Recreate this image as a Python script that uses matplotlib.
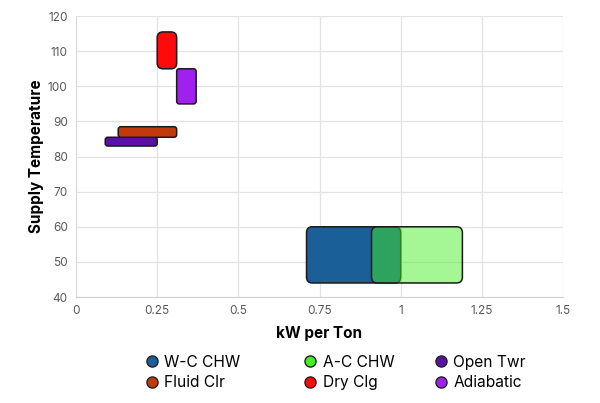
import matplotlib
matplotlib.use("Agg")
import matplotlib.pyplot as plt
from matplotlib.patches import FancyBboxPatch
from matplotlib.lines import Line2D

plt.rcParams['font.family'] = ['Inter', 'DejaVu Sans']

# ranges: (x_lo, x_hi, y_lo, y_hi)
names = ['W-C CHW', 'A-C CHW', 'Open Twr', 'Fluid Clr', 'Dry Clg', 'Adiabatic']
kw_lo = [0.71, 0.91, 0.09, 0.13, 0.25, 0.31]
kw_hi = [1.00, 1.19, 0.25, 0.31, 0.31, 0.37]
temp_lo = [44, 44, 83, 85.5, 105, 95]
temp_hi = [60, 60, 85.5, 88.5, 115.5, 105]
fills = ['#1a5f98', '#44ee22', '#5b10a8', '#c23a0c', '#ff0a0a', '#a020f0']
alphas = [1.0, 0.48, 1.0, 1.0, 1.0, 1.0]
xticks = [0, 0.25, 0.5, 0.75, 1, 1.25, 1.5]
xtick_labels = ['0', '0.25', '0.5', '0.75', '1', '1.25', '1.5']
yticks = [40, 50, 60, 70, 80, 90, 100, 110, 120]

fig = plt.figure(figsize=(6, 4.03), dpi=100)
ax = fig.add_axes([0.1267, 0.263, 0.8117, 0.697])
ax.set_xlim(0, 1.5)
ax.set_ylim(40, 120)

# aspect so that rounded corners look round in pixels
bb = ax.get_position()
w_px = bb.width * 600
h_px = bb.height * 403
aspect = (80 / h_px) / (1.5 / w_px)

for i in range(len(names)):
    w = kw_hi[i] - kw_lo[i]
    h = temp_hi[i] - temp_lo[i]
    r = 0.018 if h > 10 else 0.008
    p = FancyBboxPatch((kw_lo[i], temp_lo[i]), w, h,
                       boxstyle=f"round,pad=0,rounding_size={r}",
                       mutation_aspect=aspect,
                       edgecolor='#1a1a1a', linewidth=1.1, zorder=3)
    p.set_facecolor(matplotlib.colors.to_rgba(fills[i], alphas[i]))
    ax.add_patch(p)

ax.set_xticks(xticks)
ax.set_xticklabels(xtick_labels)
ax.set_yticks(yticks)
ax.grid(True, color='#e3e3e3', linewidth=0.9, zorder=0)
ax.set_axisbelow(True)
for s in ['top', 'right']:
    ax.spines[s].set_visible(False)
ax.spines['left'].set_color('#d9d9d9')
ax.spines['bottom'].set_color('#d0d0d0')
ax.tick_params(length=0, labelsize=8.5, labelcolor='#595959', pad=6)

ax.set_xlabel('kW per Ton', fontsize=11, fontweight='bold', labelpad=6)
ax.set_ylabel('Supply Temperature', fontsize=11, fontweight='bold', labelpad=3)

handles = []
for i in range(len(names)):
    handles.append(Line2D([], [], linestyle='none', marker='o', markersize=8,
                          markerfacecolor=fills[i], markeredgecolor='#222222',
                          markeredgewidth=1, label=names[i]))

# one small legend per column, row-wise reading as in the chart
cols = [[0, 3], [1, 4], [2, 5]]
col_x = [0.240, 0.504, 0.722]
for c in range(3):
    fig.legend([handles[k] for k in cols[c]], [names[k] for k in cols[c]],
               loc='center left', bbox_to_anchor=(col_x[c], 0.076),
               frameon=False, fontsize=11.2, handletextpad=0.3,
               labelspacing=0.35, handlelength=1.0, borderpad=0,
               borderaxespad=0)

fig.savefig('out.png', dpi=100)
